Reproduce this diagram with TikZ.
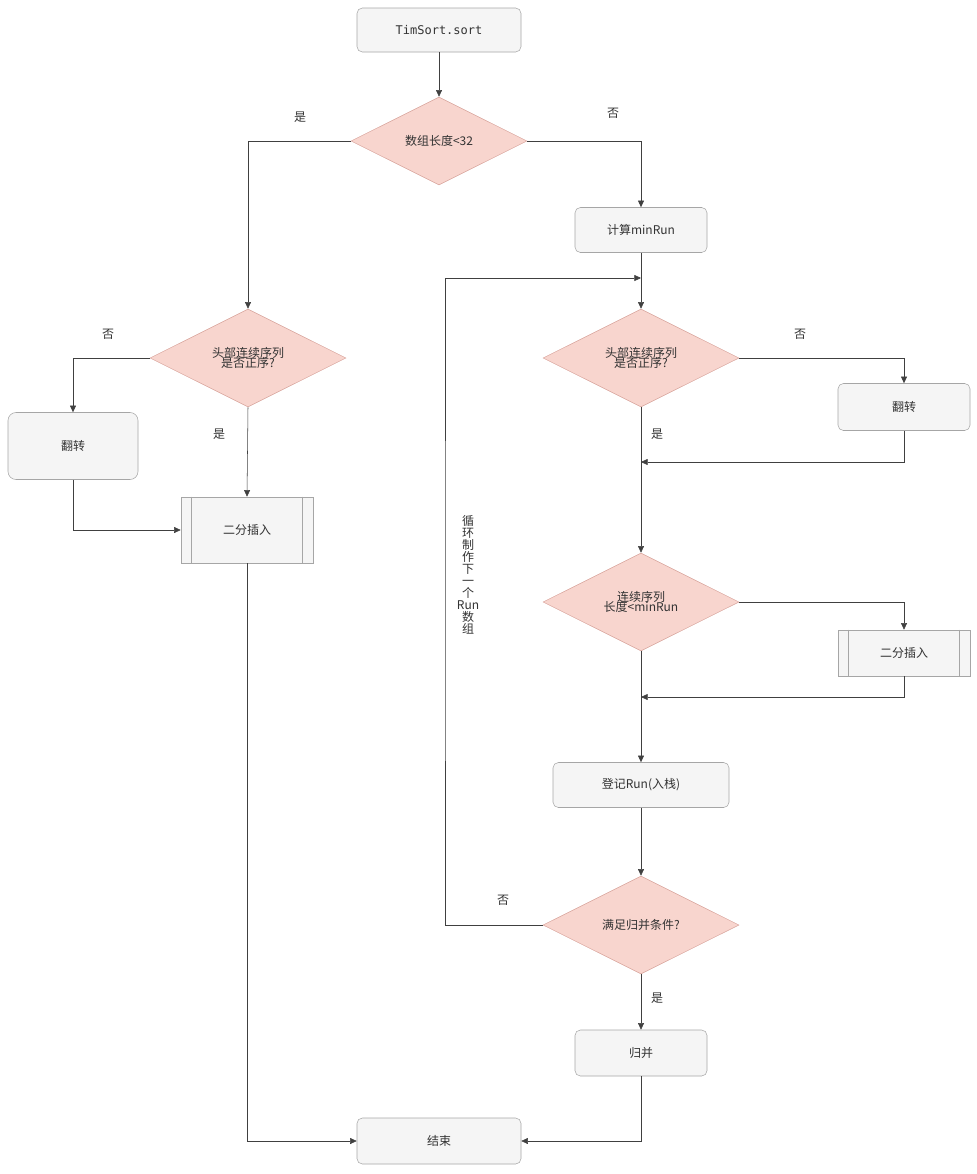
\documentclass[tikz,border=0pt]{standalone}
\usepackage{fontspec}
\setmainfont{Noto Sans CJK SC}
\newfontfamily\cjkmono{DejaVu Sans Mono}
\usetikzlibrary{shapes.geometric,arrows.meta}
\definecolor{boxfill}{HTML}{F5F5F5}
\definecolor{boxline}{HTML}{A6A6A6}
\definecolor{dfill}{HTML}{F8D5CE}
\definecolor{dline}{HTML}{D8A49C}
\definecolor{txt}{HTML}{333333}
\begin{document}
\begin{tikzpicture}[x=0.75pt,y=-0.75pt,
  box/.style={draw=boxline,fill=boxfill,rounded corners=4pt,minimum width=#1*0.75pt,inner sep=0pt,text=txt,font=\small},
  dec/.style={draw=dline,fill=dfill,diamond,aspect=2,minimum width=196*0.75pt,minimum height=98*0.75pt,inner sep=0pt,text=txt,font=\small,align=center},
  sub/.style={draw=boxline,fill=boxfill,minimum width=132*0.75pt,minimum height=66*0.75pt,inner sep=0pt,text=txt,font=\small},
  arr/.style={draw=black!75,-{Triangle[length=5pt,width=4.5pt]}},
  ln/.style={draw=black!75},
  lab/.style={text=txt,font=\small}]
\useasboundingbox (0,0) rectangle (976,1174);
\node[box=164,minimum height=44*0.75pt] (start) at (439,30) {\cjkmono TimSort.sort};
\node[dec,minimum width=176*0.75pt,minimum height=88*0.75pt] (d1) at (439,141) {数组长度<32};
\node[box=132,minimum height=45*0.75pt] (mr) at (641,230) {计算minRun};
\node[dec] (d2) at (248,358) {头部连续序列\\[-3pt]是否正序?};
\node[box=130,minimum height=67*0.75pt,rounded corners=6pt] (fl) at (73,446) {翻转};
\node[sub] (bl) at (247,530) {二分插入};
\draw[boxline] ([xshift=11*0.75pt]bl.north west) -- ([xshift=11*0.75pt]bl.south west)
  ([xshift=-11*0.75pt]bl.north east) -- ([xshift=-11*0.75pt]bl.south east);
\node[dec] (d3) at (641,358) {头部连续序列\\[-3pt]是否正序?};
\node[box=132,minimum height=47*0.75pt] (fr) at (904,407) {翻转};
\node[dec] (d4) at (641,602) {连续序列\\[-3pt]长度<minRun};
\node[sub,minimum height=46*0.75pt] (br) at (904,653) {二分插入};
\draw[boxline] ([xshift=11*0.75pt]br.north west) -- ([xshift=11*0.75pt]br.south west)
  ([xshift=-11*0.75pt]br.north east) -- ([xshift=-11*0.75pt]br.south east);
\node[box=176,minimum height=45*0.75pt] (reg) at (641,785) {登记Run(入栈)};
\node[dec] (d5) at (641,925) {满足归并条件?};
\node[box=132,minimum height=46*0.75pt] (mg) at (641,1053) {归并};
\node[box=164,minimum height=46*0.75pt] (end) at (439,1141) {结束};
\coordinate (j1) at (641,278);
\coordinate (j2) at (641,462);
\coordinate (j3) at (641,697);
\draw[arr] (start) -- (d1);
\draw[arr] (d1.west) -| (d2.north);
\draw[arr] (d1.east) -| (mr.north);
\draw[arr] (mr) -- (d3.north);
\draw[arr] (d2.west) -| (fl.north);
\draw[arr] (d2.south) -- (bl.north);
\draw[arr] (fl.south) |- (bl.west);
\draw[arr] (bl.south) |- (end.west);
\draw[arr] (d3.east) -| (fr.north);
\draw[arr] (d3.south) -- (d4.north);
\draw[arr] (fr.south) |- (j2);
\draw[arr] (d4.east) -| (br.north);
\draw[arr] (br.south) |- (j3);
\draw[arr] (d4.south) -- (reg.north);
\draw[arr] (reg) -- (d5.north);
\draw[arr] (d5.west) -| (445,600) |- (j1);
\draw[arr] (d5.south) -- (mg.north);
\draw[arr] (mg.south) |- (end.east);
\node[lab] (l1) at (300,117) {是};
\node[lab] (l2) at (613,113) {否};
\node[lab] (l3) at (108,334) {否};
\node[lab] (l4) at (219,434) {是};
\node[lab] (l5) at (800,334) {否};
\node[lab] (l6) at (657,434) {是};
\node[lab] (l7) at (503,900) {否};
\node[lab] (l8) at (657,998) {是};
\node[lab,align=center] (lv) at (468,575) {循\\[-2pt]环\\[-2pt]制\\[-2pt]作\\[-2pt]下\\[-2pt]一\\[-2pt]个\\[-2pt]Run\\[-2pt]数\\[-2pt]组};
\end{tikzpicture}
\end{document}
